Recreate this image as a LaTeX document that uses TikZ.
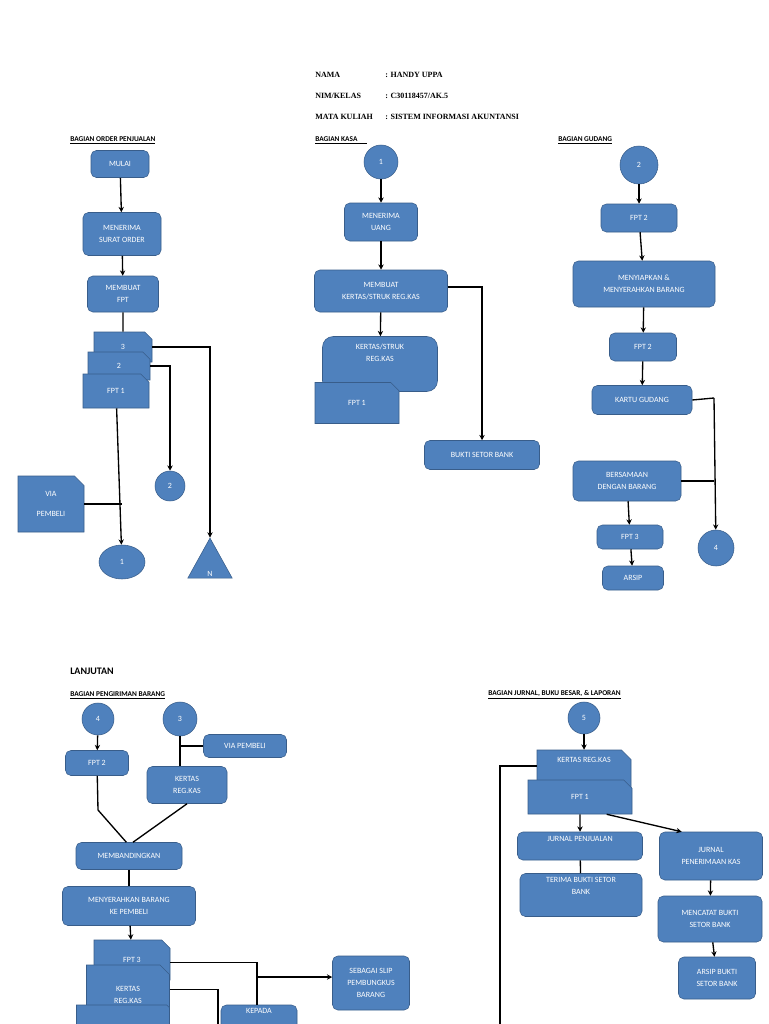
\documentclass[tikz,border=0pt]{standalone}
\usepackage{fontspec}
\setmainfont{Carlito}
\newfontfamily\headfont{Liberation Serif}
\usetikzlibrary{shapes.geometric,shapes.misc,arrows.meta,positioning}
\definecolor{boxblue}{HTML}{4F81BD}
\definecolor{boxline}{HTML}{385D8A}
\tikzset{
  sz/.style 2 args={minimum width=#1*0.75pt,minimum height=#2*0.75pt},
  proc/.style={rectangle,rounded corners=4pt,fill=boxblue,draw=boxline,
    text=white,font=\fontsize{6}{9}\selectfont,align=center,inner sep=1pt},
  doc/.style={chamfered rectangle,chamfered rectangle corners=north east,
    chamfered rectangle xsep=4pt,fill=boxblue,draw=boxline,
    text=white,font=\fontsize{6}{9}\selectfont,align=center,inner sep=1pt},
  conn/.style={circle,fill=boxblue,draw=boxline,text=white,
    font=\fontsize{6}{8}\selectfont,inner sep=0pt},
  head/.style={font=\headfont\bfseries\fontsize{6}{8}\selectfont,anchor=west,inner sep=0pt},
  title/.style={font=\bfseries\fontsize{5.5}{7}\selectfont,anchor=west,inner sep=0pt},
  line/.style={line width=1pt},
  arrow/.style={line width=1pt,-{Stealth[length=4pt,width=4pt]}}
}
\begin{document}
\begin{tikzpicture}[x=0.75pt,y=-0.75pt]
  \useasboundingbox (0,0) rectangle (768,1024);
  \clip (0,0) rectangle (768,1024);
  \fill[white] (0,0) rectangle (768,1024);
  % header
  \node[head] (h_1) at (315,75) {NAMA};
  \node[head] (h_2) at (385,75) {: HANDY UPPA};
  \node[head] (h_3) at (315,96) {NIM/KELAS};
  \node[head] (h_4) at (385,96) {: C30118457/AK.5};
  \node[head] (h_5) at (315,117) {MATA KULIAH};
  \node[head] (h_6) at (385,117) {: SISTEM INFORMASI AKUNTANSI};
  \node[title] (t_1) at (70,140) {\underline{BAGIAN ORDER PENJUALAN}};
  \node[title] (t_2) at (315,140) {\underline{BAGIAN KASA\hspace{1.3em}}};
  \node[title] (t_3) at (558,140) {\underline{BAGIAN GUDANG}};
  \node[font=\bfseries\fontsize{7.5}{9}\selectfont,anchor=west,inner sep=0pt] (t_4) at (70,671) {LANJUTAN};
  \node[title] (t_5) at (70,695) {\underline{BAGIAN PENGIRIMAN BARANG}};
  \node[title] (t_6) at (488,695) {\underline{BAGIAN JURNAL, BUKU BESAR, \& LAPORAN}};
  % order penjualan
  \node[proc,sz={58}{27}] (a_1) at (120,164) {MULAI};
  \node[proc,sz={78}{43}] (a_2) at (122,234) {MENERIMA\\SURAT ORDER};
  \node[proc,sz={71}{36}] (a_3) at (123,294) {MEMBUAT\\FPT};
  \node[doc,sz={58}{30}] (a_4) at (123,347) {3};
  \node[doc,sz={62}{28}] (a_5) at (119,366) {2};
  \node[doc,sz={66}{34}] (a_6) at (116,391) {FPT 1};
  \node[doc,sz={66}{56},align=center] (a_7) at (51,504) {VIA\\[6pt]PEMBELI};
  \node[conn,minimum size=30*0.75pt] (a_8) at (170,486) {2};
  \node[ellipse,fill=boxblue,draw=boxline,text=white,font=\fontsize{6}{8}\selectfont,
    sz={46}{34},inner sep=0pt] (a_9) at (122,562) {1};
  \node[isosceles triangle,shape border rotate=90,isosceles triangle apex angle=58,
    fill=boxblue,draw=boxline,sz={42}{40},inner sep=0pt] (a_10) at (210,565) {};
  \node[text=white,font=\fontsize{6}{8}\selectfont] (a_11) at (210,574) {N};
  \draw[arrow] (a_1) -- (a_2);
  \draw[arrow] (a_2) -- (a_3);
  \draw[line] (a_3) -- (a_4);
  \draw[arrow] (a_4.east) -| (a_10.apex);
  \draw[arrow] (a_5.east) -| (a_8);
  \draw[arrow] (a_6) -- (a_9);
  \draw[line] (a_7.east) -- (a_7.east -| a_9);
  % kasa
  \node[conn,minimum size=34*0.75pt] (b_1) at (381,162) {1};
  \node[proc,sz={73}{38}] (b_2) at (381,222) {MENERIMA\\UANG};
  \node[proc,sz={133}{42}] (b_3) at (381,291) {MEMBUAT\\KERTAS/STRUK REG.KAS};
  \node[proc,rounded corners=8pt,sz={115}{55}] (b_4) at (380,364) {KERTAS/STRUK\\REG.KAS\\[8pt]};
  \node[doc,sz={84}{41}] (b_5) at (357,403) {FPT 1};
  \node[proc,sz={115}{29}] (b_6) at (482,455) {BUKTI SETOR BANK};
  \draw[arrow] (b_1) -- (b_2);
  \draw[arrow] (b_2) -- (b_3);
  \draw[arrow] (b_3) -- (b_4);
  \draw[arrow] ([yshift=3pt]b_3.east) -| (b_6);
  % gudang
  \node[conn,minimum size=38*0.75pt] (c_1) at (639,165) {2};
  \node[proc,sz={76}{28}] (c_2) at (639,218) {FPT 2};
  \node[proc,sz={142}{46}] (c_3) at (644,284) {MENYIAPKAN \&\\MENYERAHKAN BARANG};
  \node[proc,sz={67}{28}] (c_4) at (643,347) {FPT 2};
  \node[proc,sz={100}{29}] (c_5) at (642,400) {KARTU GUDANG};
  \node[proc,sz={108}{40}] (c_6) at (627,481) {BERSAMAAN\\DENGAN BARANG};
  \node[proc,sz={66}{24}] (c_7) at (630,537) {FPT 3};
  \node[proc,sz={61}{24}] (c_8) at (633,578) {ARSIP};
  \node[conn,minimum size=36*0.75pt] (c_9) at (716,548) {4};
  \coordinate (c_10) at (714,398);
  \draw[arrow] (c_1) -- (c_2);
  \draw[arrow] (c_2) -- (c_3);
  \draw[arrow] (c_3) -- (c_4);
  \draw[arrow] (c_4) -- (c_5);
  \draw[line] (c_5.east) -- (c_10);
  \draw[arrow] (c_10) -- (c_9);
  \draw[line] (c_6.east) -- (c_6.east -| c_10);
  \draw[arrow] (c_6) -- (c_7);
  \draw[arrow] (c_7) -- (c_8);
  % pengiriman barang
  \node[conn,minimum size=32*0.75pt] (d_1) at (98,719) {4};
  \node[conn,minimum size=34*0.75pt] (d_2) at (180,719) {3};
  \node[proc,sz={63}{25}] (d_3) at (97,763) {FPT 2};
  \node[proc,sz={83}{23}] (d_4) at (245,746) {VIA PEMBELI};
  \node[proc,sz={80}{37}] (d_5) at (187,785) {KERTAS\\REG.KAS};
  \node[proc,sz={106}{27}] (d_6) at (129,856) {MEMBANDINGKAN};
  \node[proc,sz={133}{39}] (d_7) at (129,906) {MENYERAHKAN BARANG\\KE PEMBELI};
  \node[doc,sz={76}{40}] (d_8) at (132,960) {FPT 3};
  \node[doc,sz={83}{60}] (d_9) at (128,995) {KERTAS\\REG.KAS};
  \node[doc,sz={93}{50}] (d_10) at (123,1030) {};
  \node[proc,sz={77}{54}] (d_11) at (371,983) {SEBAGAI SLIP\\PEMBUNGKUS\\BARANG};
  \node[proc,sz={76}{40}] (d_12) at (259,1025) {KEPADA\\[12pt]};
  \coordinate (d_13) at (98,810);
  \coordinate (d_14) at (257,977);
  \draw[arrow] (d_1) -- (d_3);
  \draw[line] (d_2) -- (d_2 |- d_5.north);
  \draw[line] (d_2 |- d_4) -- (d_4.west);
  \draw[line] (d_3) -- (d_13) -- ([xshift=-2pt]d_6.north);
  \draw[line] (d_5.south) -- ([xshift=3pt]d_6.north);
  \draw[line] (d_6) -- (d_7);
  \draw[arrow] (d_7) -- (d_8);
  \draw[line] ([yshift=-2pt]d_8.east) -| (d_12.north -| d_14);
  \draw[arrow] (d_14) -- (d_11.west |- d_14);
  \draw[line] ([yshift=4pt]d_9.east) -| (218,1030);
  % jurnal
  \node[conn,minimum size=32*0.75pt] (e_1) at (584,718) {5};
  \node[doc,sz={94}{40}] (e_2) at (584,770) {KERTAS REG.KAS\\[6pt]};
  \node[doc,sz={104}{34}] (e_3) at (580,797) {FPT 1};
  \node[proc,sz={125}{28}] (e_4) at (580,846) {JURNAL PENJUALAN\\[2pt]};
  \node[proc,sz={122}{43}] (e_5) at (581,895) {TERIMA BUKTI SETOR\\BANK\\[4pt]};
  \node[proc,sz={103}{48}] (e_6) at (711,856) {JURNAL\\PENERIMAAN KAS};
  \node[proc,sz={104}{46}] (e_7) at (710,919) {MENCATAT BUKTI\\SETOR BANK};
  \node[proc,sz={77}{42}] (e_8) at (717,978) {ARSIP BUKTI\\SETOR BANK};
  \coordinate (e_9) at (500,766);
  \draw[arrow] (e_1) -- (e_2);
  \draw[line] ([yshift=3pt]e_2.west) -- (e_9) -- (500,1030);
  \draw[arrow] (e_3) -- (e_4);
  \draw[line] (e_4) -- (e_5);
  \draw[arrow] ([xshift=20pt]e_3.south) -- ([xshift=-22pt]e_6.north);
  \draw[arrow] (e_6) -- (e_7);
  \draw[arrow] (e_7) -- (e_8);
\end{tikzpicture}
\end{document}
